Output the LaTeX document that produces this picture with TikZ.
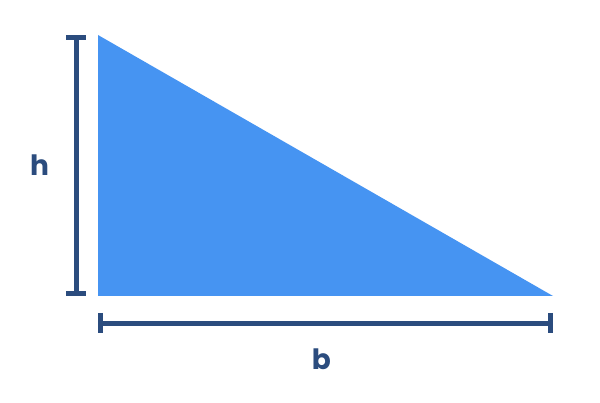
\documentclass[tikz,border=0pt]{standalone}
\usepackage{fontspec}
\setmainfont{Poppins}
\definecolor{triblue}{HTML}{4694F2}
\definecolor{dimblue}{HTML}{2B4C7E}
\begin{document}
\begin{tikzpicture}[x=1pt,y=-1pt,
  dimline/.style={draw=dimblue,line width=5pt},
  dimlabel/.style={text=dimblue,font=\fontsize{28}{30}\selectfont\bfseries,inner sep=0pt}]
\useasboundingbox (0,0) rectangle (600,403);
\fill[triblue] (98,35) -- (98,296) -- (553,296) -- cycle;
% height dimension
\coordinate (ht) at (76,38);
\coordinate (hb) at (76,293.5);
\draw[dimline] (ht) -- (hb);
\draw[dimline] (66,38) -- (86,38);
\draw[dimline] (66,293.5) -- (86,293.5);
% base dimension
\coordinate (bl) at (100.2,323.5);
\coordinate (br) at (550.5,323.5);
\draw[dimline] (bl) -- (br);
\draw[dimline] (100.2,313) -- (100.2,333);
\draw[dimline] (550.5,313) -- (550.5,333);
\node[dimlabel,anchor=base] (h) at (39.5,176) {h};
\node[dimlabel,anchor=base] (b) at (321.5,370) {b};
\end{tikzpicture}
\end{document}
